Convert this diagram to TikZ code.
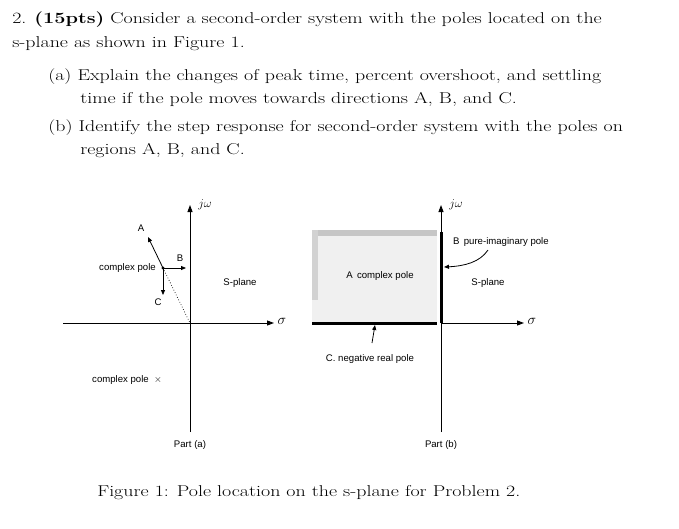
\documentclass[tikz,border=0pt]{standalone}
\usepackage{fontspec}
\newfontfamily\lab{Liberation Sans}
\usetikzlibrary{arrows.meta}
\begin{document}
\begin{tikzpicture}[x=1pt,y=-1pt,
  body/.style={anchor=base west,inner sep=0,xscale=1.27,font=\fontsize{15.7}{18}\selectfont},
  lb/.style={inner sep=1pt,font=\lab\fontsize{9.6}{10}\selectfont},
  ax/.style={line width=0.9pt,-{Triangle[length=7pt,width=5pt]}},
  ar/.style={line width=0.8pt,-{Triangle[length=5pt,width=4pt]}}]
\useasboundingbox (0,0) rectangle (679,528);
\node[body] (t1) at (12,23) {2. \textbf{(15pts)} Consider a second-order system with the poles located on the};
\node[body] (t2) at (12,47) {s-plane as shown in Figure 1.};
\node[body] (t3) at (48,80) {(a) Explain the changes of peak time, percent overshoot, and settling};
\node[body] (t4) at (80,103) {time if the pole moves towards directions A, B, and C.};
\node[body] (t5) at (48,131) {(b) Identify the step response for second-order system with the poles on};
\node[body] (t6) at (80,154) {regions A, B, and C.};
\node[body] (cap) at (97,496) {Figure 1: Pole location on the s-plane for Problem 2.};
% part a
\coordinate (a0) at (190,323);
\coordinate (ab) at (190,432);
\coordinate (at) at (190,205);
\coordinate (al) at (63,323);
\coordinate (ar) at (274,323);
\draw[line width=0.9pt] (ab) -- (a0);
\draw[ax] (a0) -- (at);
\draw[ax] (al) -- (ar);
\node[lb,font=\itshape\fontsize{12}{12}\selectfont] (jw1) at (205,205) {$j\omega$};
\node[lb,font=\fontsize{14}{14}\selectfont] (sg1) at (282,321) {$\sigma$};
\coordinate (p) at (163,268);
\fill (p) circle (1.6pt);
\coordinate (pa) at (148,237);
\coordinate (pb) at (186,268);
\coordinate (pc) at (163,295);
\draw[ar] (p) -- (pa);
\draw[ar] (p) -- (pb);
\draw[ar] (p) -- (pc);
\draw[dotted,line width=0.7pt] (p) -- (a0);
\node[lb] (A1) at (141,228) {A};
\node[lb] (B1) at (180,258) {B};
\node[lb] (C1) at (158,302) {C};
\node[lb,anchor=east] (cp1) at (157,268) {complex pole};
\node[lb] (sp1) at (240,283) {S-plane};
\node[lb,anchor=west] (cp2) at (91,380) {complex pole \ $\times$};
\node[lb] (pa1) at (190,445) {Part (a)};
% part b
\coordinate (b0) at (441,323);
\coordinate (bb) at (441,432);
\coordinate (bt) at (441,205);
\coordinate (bl) at (312,323);
\coordinate (br) at (524,323);
\fill[gray!12] (312,230) rectangle (437,323);
\fill[gray!45] (312,230) rectangle (437,236);
\fill[gray!35] (312,230) rectangle (318,300);
\draw[line width=0.9pt] (bb) -- (b0);
\draw[ax] (b0) -- (bt);
\draw[ax] (b0) -- (br);
\draw[line width=3pt] (441,232) -- (b0);
\draw[line width=3pt] (bl) -- (437,323);
\node[lb,font=\itshape\fontsize{12}{12}\selectfont] (jw2) at (456,205) {$j\omega$};
\node[lb,font=\fontsize{14}{14}\selectfont] (sg2) at (532,321) {$\sigma$};
\node[lb,anchor=west] (Bb) at (452,242) {B\, pure-imaginary pole};
\coordinate (bp) at (444,267);
\draw[ar] (488,250) .. controls (480,262) and (465,266) .. (bp);
\node[lb] (Ab) at (380,276) {A\,\ complex pole};
\node[lb] (spb) at (488,283) {S-plane};
\coordinate (ct) at (375,325);
\draw[ar] (372,343) -- (ct);
\node[lb] (Cb) at (370,359) {C.\ negative real pole};
\node[lb] (pb1) at (441,445) {Part (b)};
\end{tikzpicture}
\end{document}
